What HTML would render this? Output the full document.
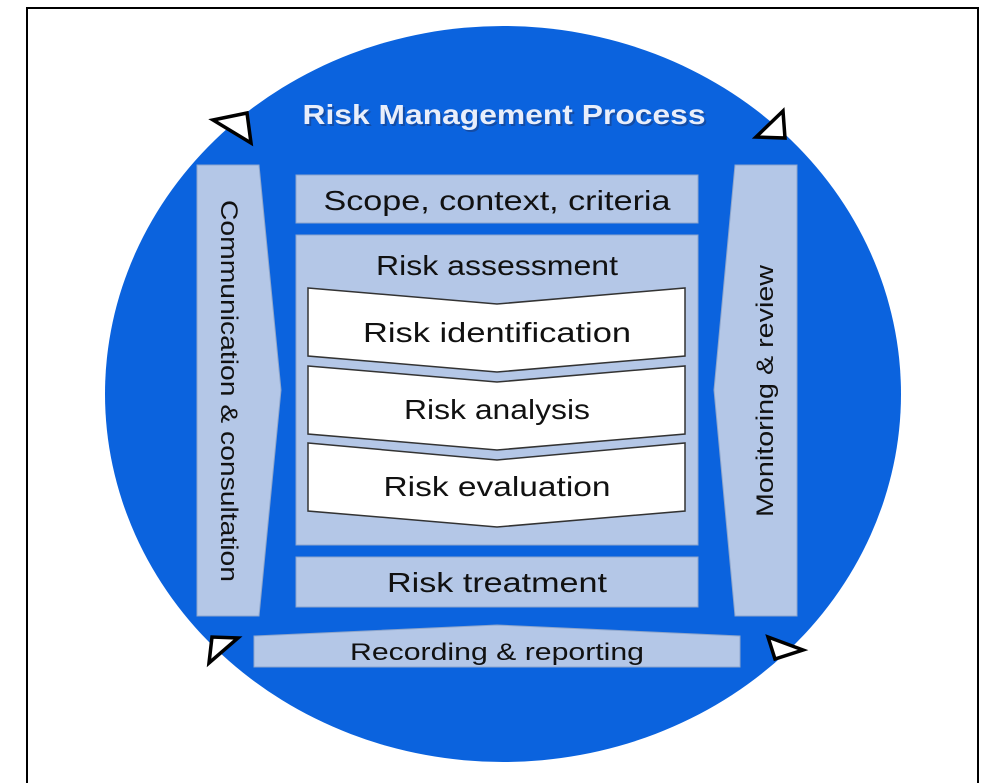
<!DOCTYPE html>
<html><head><meta charset="utf-8"><style>
html,body{margin:0;padding:0;background:#fff;}
svg{display:block}
text{font-family:"Liberation Sans","DejaVu Sans",sans-serif;}
</style></head><body>
<svg width="997" height="783" viewBox="0 0 997 783" xmlns="http://www.w3.org/2000/svg">
<rect x="0" y="0" width="997" height="783" fill="#fff"/>
<path d="M27,790 L27,8 L978,8 L978,790" fill="none" stroke="#000" stroke-width="2"/>
<ellipse cx="503" cy="394" rx="398" ry="368" fill="#0b63de"/>
<text x="506" y="126" text-anchor="middle" font-size="28" font-weight="bold" fill="#1a3d80" opacity="0.6" textLength="403" lengthAdjust="spacingAndGlyphs">Risk Management Process</text>
<text x="504" y="124" text-anchor="middle" font-size="28" font-weight="bold" fill="#e8eefb" textLength="403" lengthAdjust="spacingAndGlyphs">Risk Management Process</text>
<g fill="#b4c7e7" stroke="#8ea6cc" stroke-width="1">
<polygon points="197,165 259,165 281,390 259,616 197,616"/>
<polygon points="735,165 797,165 797,616 735,616 714,390"/>
<rect x="296" y="175" width="402" height="48"/>
<rect x="296" y="235" width="402" height="310"/>
<rect x="296" y="557" width="402" height="50"/>
<polygon points="254,636 497,625 740,636 740,667 254,667"/>
</g>
<g fill="#fff" stroke="#333" stroke-width="1.5">
<polygon points="308,288 497,304 685,288 685,356 497,372 308,356"/>
<polygon points="308,366 497,382 685,366 685,434 497,450 308,434"/>
<polygon points="308,443 497,460 685,443 685,511 497,527 308,511"/>
</g>
<g font-size="28" fill="#111" text-anchor="middle">
<text x="497" y="210" textLength="347" lengthAdjust="spacingAndGlyphs">Scope, context, criteria</text>
<text x="497" y="275" textLength="242" lengthAdjust="spacingAndGlyphs">Risk assessment</text>
<text x="497" y="342" textLength="268" lengthAdjust="spacingAndGlyphs">Risk identification</text>
<text x="497" y="419" textLength="186" lengthAdjust="spacingAndGlyphs">Risk analysis</text>
<text x="497" y="496" textLength="227" lengthAdjust="spacingAndGlyphs">Risk evaluation</text>
<text x="497" y="592" textLength="220" lengthAdjust="spacingAndGlyphs">Risk treatment</text>
<text x="497" y="660" font-size="24" textLength="294" lengthAdjust="spacingAndGlyphs">Recording &amp; reporting</text>
<text transform="translate(221,391) rotate(90)" font-size="24" textLength="382" lengthAdjust="spacingAndGlyphs">Communication &amp; consultation</text>
<text transform="translate(773,391) rotate(-90)" font-size="24" textLength="252" lengthAdjust="spacingAndGlyphs">Monitoring &amp; review</text>
</g>
<g fill="#fff" stroke="#000" stroke-width="3.5" stroke-linejoin="miter">
<polygon points="213,120 247,113 251,143"/>
<polygon points="783,111 756,137 785,138"/>
<polygon points="209,663 212,637 238,638"/>
<polygon points="768,637 803,650 775,659"/>
</g>
</svg>
</body></html>
